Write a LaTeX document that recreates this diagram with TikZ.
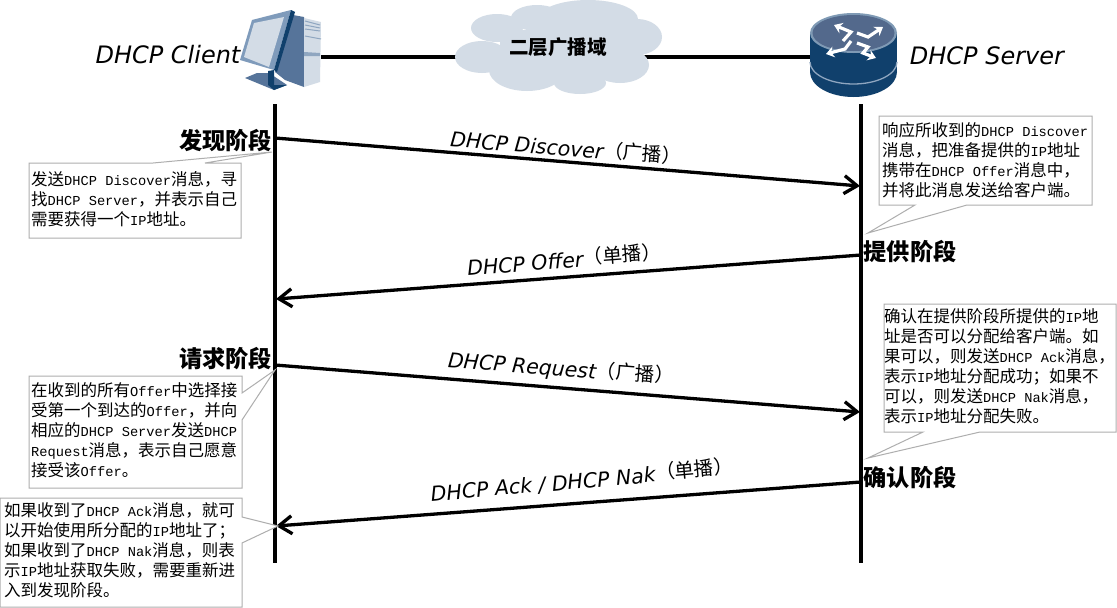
\documentclass[tikz,border=0pt]{standalone}
\usepackage{fontspec}
\setmainfont{Noto Sans CJK SC}
\newfontfamily\latfont{Liberation Mono}
\newfontfamily\handfont{DejaVu Sans}
\usetikzlibrary{arrows.meta}
\newcommand{\m}[1]{{\latfont\fontsize{13.7}{20}\selectfont #1}}
\newcommand{\zcomma}{^^^^ff0c}
\newcommand{\zsemi}{^^^^ff1b}
\newcommand{\zlp}{^^^^ff08}
\newcommand{\zrp}{^^^^ff09}
\definecolor{cloudc}{HTML}{D3DCE6}
\definecolor{monframe}{HTML}{7F9BBB}
\definecolor{monscreen}{HTML}{D3DCE6}
\definecolor{navy}{HTML}{10406C}
\definecolor{towerside}{HTML}{56749A}
\definecolor{routertop}{HTML}{53698C}
\definecolor{routerrim}{HTML}{7F9AB5}
\definecolor{routerline}{HTML}{8FA6C0}
\definecolor{callgray}{HTML}{AEAEAE}
\tikzset{
  life/.style={line width=4pt,black},
  link/.style={line width=4pt,black},
  msg/.style={line width=3.3pt,black,-{Straight Barb[length=13pt,width=18pt,line width=3.3pt]}},
  callout/.style={draw=callgray,line width=1pt,fill=white},
  calltext/.style={anchor=north west,inner sep=0pt,align=left,font=\fontsize{16.5}{20}\selectfont},
  stage/.style={inner sep=0pt,font=\fontsize{23.2}{26}\selectfont\bfseries},
  hand/.style={inner sep=0pt,font=\handfont\itshape\fontsize{24}{26}\selectfont},
  msglabel/.style={inner sep=0pt,font=\handfont\itshape\fontsize{20.5}{24}\selectfont},
  rarrow/.style={draw=white,line width=3.2pt,line join=miter,-{Stealth[length=8pt,width=11pt]}}
}
\newcommand{\zh}[1]{{\normalfont\fontsize{19.5}{24}\selectfont\raisebox{2pt}{#1}}}
\begin{document}
\begin{tikzpicture}[x=1pt,y=-1pt]
\useasboundingbox (0,0) rectangle (1117,608);
\fill[white] (0,0) rectangle (1117,608);
% named anchor points
\coordinate (linkL) at (321,57);
\coordinate (linkC) at (558,57);
\coordinate (linkR) at (812,57);
\coordinate (clientTop) at (275,104);
\coordinate (clientBot) at (275,563);
\coordinate (serverTop) at (861,104);
\coordinate (serverBot) at (861,563);
\coordinate (d1) at (275,138);
\coordinate (d2) at (860,186);
\coordinate (o1) at (861,255);
\coordinate (o2) at (276,299);
\coordinate (r1) at (275,365);
\coordinate (r2) at (860,412);
\coordinate (a1) at (861,482);
\coordinate (a2) at (276,526);
% links
\draw[link] (linkL) -- (linkC);
\draw[link] (linkC) -- (linkR);
% lifelines
\draw[life] (clientTop) -- (clientBot);
\draw[life] (serverTop) -- (serverBot);
% messages
\draw[msg] (d1) -- (d2);
\draw[msg] (o1) -- (o2);
\draw[msg] (r1) -- (r2);
\draw[msg] (a1) -- (a2);
% cloud
\fill[cloudc] (482,57) ellipse [x radius=27,y radius=16];
\fill[cloudc] (497,28) ellipse [x radius=26,y radius=14];
\fill[cloudc] (537,18) ellipse [x radius=26,y radius=13];
\fill[cloudc] (588,19) ellipse [x radius=50,y radius=19];
\fill[cloudc] (637,37) ellipse [x radius=25,y radius=18];
\fill[cloudc] (620,65) ellipse [x radius=29,y radius=18];
\fill[cloudc] (527,70) ellipse [x radius=38,y radius=21];
\fill[cloudc] (580,83) ellipse [x radius=26,y radius=11];
\fill[cloudc] (500,30) rectangle (625,75);
\node[inner sep=0pt,font=\fontsize{19.5}{22}\selectfont\bfseries] (cloudtext) at (558,47) {二层广播域};
% PC
\fill[towerside] (245,78) -- (257,73) -- (269,73) -- (287,85) -- (274,90) -- cycle;
\fill[navy] (268,71) -- (274,70) -- (274,85) -- (287,85) -- (274,90) -- (268,85) -- cycle;
\fill[towerside] (293,15) -- (304,17) -- (304,87) -- (285,80) -- (275,72) -- cycle;
\fill[monscreen] (304,18) -- (321,22) -- (320,82) -- (304,87) -- cycle;
\fill[routerline] (304,52) -- (320,53) -- (320,56) -- (304,56) -- cycle;
\draw[routerline,line width=1pt] (305,21) -- (320,25) (305,25) -- (320,28) (305,29) -- (320,31) (305,36) -- (321,39);
\fill[monframe] (252,20) -- (291,10) -- (274,70) -- (240,60) -- cycle;
\fill[navy] (291,10) -- (295,12) -- (277,72) -- (274,70) -- cycle;
\fill[monscreen] (254,23) -- (284,17) -- (269,67) -- (244,57) -- cycle;
% router
\fill[navy] (810,33) rectangle (897,72);
\fill[navy] (853.5,72) ellipse [x radius=43.5,y radius=25];
\draw[routerline,line width=1.3pt] (810,62) arc[start angle=180,end angle=0,x radius=43.5,y radius=22];
\fill[routerrim] (853.5,33) ellipse [x radius=43.5,y radius=20];
\fill[routertop] (853.5,33) ellipse [x radius=41,y radius=18];
\draw[rarrow] (843,41) -- (851,32) -- (834,25);
\draw[rarrow] (857,33) -- (868,37) -- (883,27);
\draw[rarrow] (851,41) -- (845,49) -- (826,54);
\draw[rarrow] (857,43) -- (868,47) -- (863,53) -- (876,58);
% labels
\node[hand] (clientlabel) at (168,55) {DHCP Client};
\node[hand] (serverlabel) at (987,56) {DHCP Server};
\node[msglabel,rotate=-4.7] (ld) at (566,147) {DHCP Discover\zh{\zlp 广播\zrp}};
\node[msglabel,rotate=4.3] (lo) at (564,259) {DHCP Offer\zh{\zlp 单播\zrp}};
\node[msglabel,rotate=-4.6] (lr) at (561,369) {DHCP Request\zh{\zlp 广播\zrp}};
\node[msglabel,rotate=5] (la) at (582,480) {DHCP Ack / DHCP Nak\zh{\zlp 单播\zrp}};
% callouts
\draw[callout] (29,163) -- (153,163) -- (272,152) -- (205,163) -- (241,163) -- (241,238) -- (29,238) -- cycle;
\node[calltext] (t1) at (31,171) {发送\m{DHCP Discover}消息\zcomma 寻\\找\m{DHCP Server}\zcomma 并表示自己\\需要获得一个\m{IP}地址。};
\draw[callout] (879,116) -- (1092,116) -- (1092,205) -- (967,205) -- (868,233) -- (915,205) -- (879,205) -- cycle;
\node[calltext] (t2) at (882,122) {响应所收到的\m{DHCP Discover}\\消息\zcomma 把准备提供的\m{IP}地址\\携带在\m{DHCP Offer}消息中\zcomma\\并将此消息发送给客户端。};
\draw[callout] (29,376) -- (242,376) -- (242,393) -- (275,370) -- (242,420) -- (242,488) -- (29,488) -- cycle;
\node[calltext] (t3) at (31,382) {在收到的所有\m{Offer}中选择接\\受第一个到达的\m{Offer}\zcomma 并向\\相应的\m{DHCP Server}发送\m{DHCP}\\\m{Request}消息\zcomma 表示自己愿意\\接受该\m{Offer}。};
\draw[callout] (0,498) -- (242,498) -- (242,517) -- (278,526) -- (242,543) -- (242,607) -- (0,607) -- cycle;
\node[calltext] (t4) at (4,502) {如果收到了\m{DHCP Ack}消息\zcomma 就可\\以开始使用所分配的\m{IP}地址了\zsemi\\如果收到了\m{DHCP Nak}消息\zcomma 则表\\示\m{IP}地址获取失败\zcomma 需要重新进\\入到发现阶段。};
\draw[callout] (884,304) -- (1116,304) -- (1116,432) -- (980,432) -- (868,458) -- (923,432) -- (884,432) -- cycle;
\node[calltext] (t5) at (884,308) {确认在提供阶段所提供的\m{IP}地\\址是否可以分配给客户端。如\\果可以\zcomma 则发送\m{DHCP Ack}消息\zcomma\\表示\m{IP}地址分配成功\zsemi 如果不\\可以\zcomma 则发送\m{DHCP Nak}消息\zcomma\\表示\m{IP}地址分配失败。};
% stages
\node[stage] (s1) at (225.5,141) {发现阶段};
\node[stage] (s2) at (910,252) {提供阶段};
\node[stage] (s3) at (225.5,359) {请求阶段};
\node[stage] (s4) at (910,478) {确认阶段};
\end{tikzpicture}
\end{document}
